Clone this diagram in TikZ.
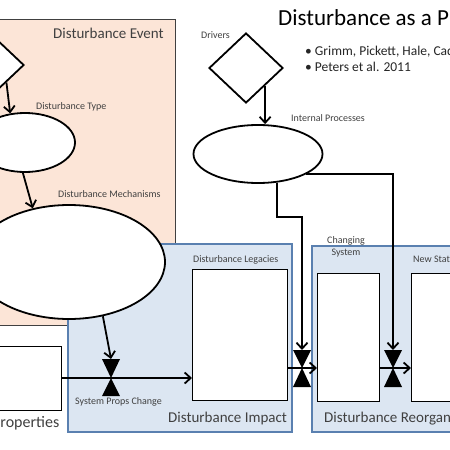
\documentclass[tikz,border=0pt]{standalone}
\usepackage{fontspec}
\setmainfont{Carlito}
\usetikzlibrary{shapes.geometric,arrows.meta}
\definecolor{peach}{HTML}{FCE5D7}
\definecolor{lblue}{HTML}{DCE6F2}
\definecolor{bblue}{HTML}{5A80B0}
\definecolor{txt}{HTML}{404040}
\begin{document}
\begin{tikzpicture}[x=1pt,y=-1pt,
  lbl/.style={font=\fontsize{10}{11.5}\selectfont, text=txt, inner sep=0, anchor=base west},
  biglbl/.style={font=\fontsize{15}{18}\selectfont, text=txt, inner sep=0, anchor=base west},
  shp/.style={draw, line width=1.8pt, fill=white, inner sep=0},
  rectbox/.style={draw, line width=1.4pt, fill=white, inner sep=0, anchor=north west},
  arr/.style={line width=1.8pt, -{Straight Barb[length=6pt,width=11pt,line width=1.8pt]}},
  valvefill/.style={fill=black}
]
\useasboundingbox (0,0) rectangle (450,450);
\clip (0,0) rectangle (450,450);
\fill[white] (0,0) rectangle (450,450);

% group panels
\draw[fill=peach, draw=txt, line width=0.8pt] (-10,19) rectangle (175,325);
\draw[fill=lblue, draw=bblue, line width=1.2pt] (68,244) rectangle (292,432);
\draw[fill=lblue, draw=bblue, line width=1.2pt] (312,246) rectangle (470,432);

% shapes
\node[shp, diamond, minimum width=74pt, minimum height=70pt] (d1) at (-13,65) {};
\node[shp, ellipse, minimum width=100pt, minimum height=59pt] (t1) at (25,142.5) {};
\node[shp, ellipse, minimum width=192pt, minimum height=114pt] (m1) at (69,262) {};
\node[shp, diamond, minimum width=74pt, minimum height=70pt] (drv) at (246,68) {};
\node[shp, ellipse, minimum width=129pt, minimum height=58pt] (ip) at (258,154) {};

\node[rectbox, minimum width=91pt, minimum height=64pt] (props) at (-30,346) {};
\node[rectbox, minimum width=95pt, minimum height=131pt] (leg) at (192,269) {};
\node[rectbox, minimum width=62pt, minimum height=128pt] (chg) at (317,273) {};
\node[rectbox, minimum width=70pt, minimum height=128pt] (nst) at (411,273) {};

% valve positions
\coordinate (v1) at (111,378);
\coordinate (v2) at (302,368);
\coordinate (v3) at (393,368);
\coordinate (v1t) at ([yshift=19pt]v1);
\coordinate (v2t) at ([yshift=18pt]v2);
\coordinate (v3t) at ([yshift=18pt]v3);
\coordinate (bend1) at (302,217);

% connectors
\draw[arr] (d1.-42) -- (t1.117);
\draw[arr] (t1.-94) -- (m1.124);
\draw[arr] (m1.-58) -- (v1t);
\draw[arr] (props.east |- v1) -- (leg.west |- v1);
\draw[arr] (leg.east |- v2) -- (chg.west |- v2);
\draw[arr] (chg.east |- v3) -- (nst.west |- v3);
\draw[arr] (drv.-43) -- (drv.-43 |- ip.north);
\draw[arr] (ip.-56) |- (bend1) -- (v2t);
\draw[arr] (ip.-23) -| (v3t);

% valves (bow ties)
\fill[valvefill] (v1) ++(-9,-19) -- ++(18,0) -- (v1) -- cycle;
\fill[valvefill] (v1) -- ++(-9,18) -- ++(18,0) -- cycle;
\fill[valvefill] (v2) ++(-9,-18) -- ++(18,0) -- (v2) -- cycle;
\fill[valvefill] (v2) -- ++(-9,19) -- ++(18,0) -- cycle;
\fill[valvefill] (v3) ++(-9,-18) -- ++(18,0) -- (v3) -- cycle;
\fill[valvefill] (v3) -- ++(-9,19) -- ++(18,0) -- cycle;

% labels
\node[font=\fontsize{23}{27}\selectfont, inner sep=0, anchor=base west] (title) at (278,25) {Disturbance as a Process};
\node[font=\fontsize{13.5}{16}\selectfont, text=black!85, inner sep=0, anchor=base west] (b1) at (305,55) {• Grimm, Pickett, Hale, Cadenasso};
\node[font=\fontsize{13.5}{16}\selectfont, text=black!85, inner sep=0, anchor=base west] (b2) at (305,71) {• Peters et al. 2011};

\node[biglbl] (evt) at (53,38) {Disturbance Event};
\node[biglbl] (imp) at (168,422) {Disturbance Impact};
\node[biglbl] (reo) at (324,422) {Disturbance Reorganization};
\node[font=\fontsize{16}{18}\selectfont, text=txt, inner sep=0, anchor=base west] (prl) at (-8,427) {Properties};

\node[lbl] (drl) at (201,38) {Drivers};
\node[lbl] (tyl) at (36,109) {Disturbance Type};
\node[lbl] (mel) at (58,197) {Disturbance Mechanisms};
\node[lbl] (ipl) at (291,121) {Internal Processes};
\node[lbl] (lgl) at (193,262) {Disturbance Legacies};
\node[lbl] (spl) at (75,404) {System Props Change};
\node[lbl, anchor=base, align=center] (chl) at (346,255) {Changing\\System};
\node[lbl] (nsl) at (413,262) {New State};
\end{tikzpicture}
\end{document}
